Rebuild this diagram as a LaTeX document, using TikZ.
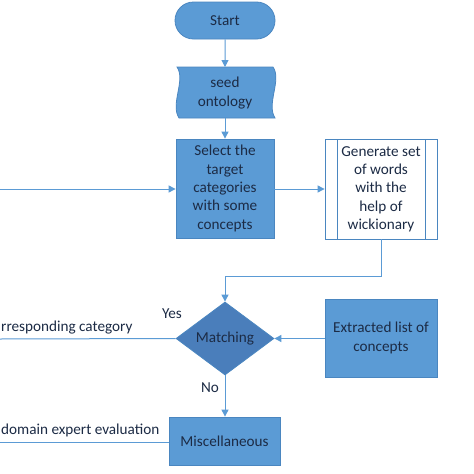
\documentclass[tikz,border=0pt]{standalone}
\usepackage{fontspec}
\setmainfont{Carlito}
\usetikzlibrary{shapes.geometric,shapes.misc,arrows.meta}
\definecolor{boxfill}{HTML}{5B9BD5}
\definecolor{boxedge}{HTML}{4A86C0}
\definecolor{dfill}{HTML}{4A7EBB}
\definecolor{txt}{HTML}{1C2B45}
\definecolor{lnc}{HTML}{5B9BD5}
\tikzset{
  every node/.style={font=\fontsize{15.2}{18.3}\selectfont, text=txt, align=center},
  boxnode/.style={draw=boxedge, fill=boxfill, line width=0.8pt, inner sep=0pt},
  conn/.style={draw=lnc, line width=1pt, -{Triangle[length=7pt,width=7pt]}},
  plain/.style={draw=lnc, line width=1pt},
}
\begin{document}
\begin{tikzpicture}[x=1pt,y=-1pt]
\useasboundingbox (0,0) rectangle (474,474);
\fill[white] (0,0) rectangle (474,474);
% Start
\node[boxnode, rounded rectangle, minimum width=100pt, minimum height=37pt] (start) at (225,20.5) {Start};
% seed ontology (tape)
\filldraw[draw=boxedge, fill=boxfill, line width=0.8pt]
  (177,67) -- (273,67) .. controls (282,80) and (266,104) .. (275,118)
  -- (179,118) .. controls (170,104) and (186,80) .. (177,67) -- cycle;
\node (seed) at (225,93) {seed\\ontology};
\coordinate (seedtop) at (225,67);
\coordinate (seedbot) at (225,118);
% Select
\node[boxnode, minimum width=98pt, minimum height=99pt] (select) at (225,188.5) {Select the\\target\\categories\\with some\\concepts};
% Generate
\node[draw=boxedge, fill=white, line width=0.8pt, minimum width=112pt, minimum height=100pt, inner sep=0pt] (gen) at (381,189) {Generate set\\of words\\with the\\help of\\wickionary};
\draw[boxedge, line width=0.8pt] (337,139) -- (337,239) (425,139) -- (425,239);
% Matching diamond
\node[diamond, draw=boxedge, fill=dfill, line width=0.8pt, minimum width=98pt, minimum height=73pt, inner sep=0pt, aspect=1.34] (match) at (225,338.5) {Matching};
% Extracted
\node[boxnode, minimum width=112pt, minimum height=78pt] (extr) at (381,338) {Extracted list of\\concepts};
% Misc
\node[boxnode, minimum width=111pt, minimum height=48pt] (misc) at (224.5,441) {Miscellaneous};
% connectors
\draw[conn] (start) -- (seedtop);
\draw[conn] (seedbot) -- (select);
\coordinate (lin) at (0,189);
\draw[conn] (lin) -- (lin -| select.west);
\draw[conn] (select.east |- 0,189) -- (gen.west |- 0,189);
\coordinate (bend1) at (381,276);
\coordinate (bend2) at (225,276);
\draw[conn] (gen.south -| bend1) -- (bend1) -- (bend2) -- (match.north);
\draw[conn] (extr.west |- match.east) -- (match.east);
\draw[conn] (match.south) -- (misc.north -| match.south);
\coordinate (yesend) at (0,339);
\draw[plain] (match.west) -- (yesend);
\coordinate (noend) at (0,442);
\draw[plain] (misc.west |- noend) -- (noend);
% labels
\node (yes) at (172,314) {Yes};
\node (no) at (210,388) {No};
\node[anchor=west, inner sep=0.5pt] (corr) at (0.5,328) {rresponding category};
\node[anchor=west, inner sep=0.5pt] (dom) at (0.5,430) {domain expert evaluation};
\end{tikzpicture}
\end{document}
